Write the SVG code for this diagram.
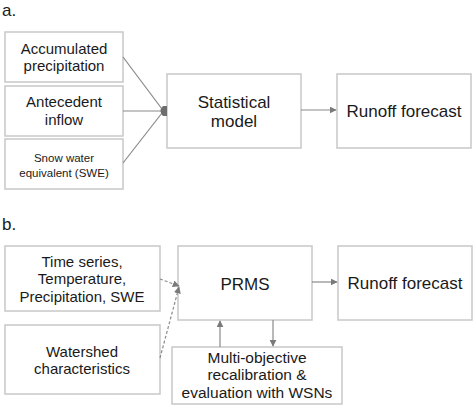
<svg xmlns="http://www.w3.org/2000/svg" width="474" height="406" viewBox="0 0 474 406">
<style>
.box{fill:#fff;stroke:#c8c8c8;stroke-width:1.5}
text{font-family:"Liberation Sans",Arial,sans-serif;fill:#1a1a1a;text-anchor:middle}
.lbl{text-anchor:start;font-size:17px}
.c{stroke:#8a8a8a;stroke-width:1.2;fill:none}
.d{stroke:#8a8a8a;stroke-width:1.2;fill:none;stroke-dasharray:3 2}
</style>
<defs>
<marker id="ah" viewBox="0 0 10 10" refX="9" refY="5" markerWidth="7" markerHeight="7" markerUnits="userSpaceOnUse" orient="auto">
<path d="M0,0 L10,5 L0,10 z" fill="#7a7a7a"/>
</marker>
</defs>
<rect width="474" height="406" fill="#fff"/>
<text class="lbl" x="2" y="16">a.</text>
<text class="lbl" x="2" y="230">b.</text>

<g id="accum"><rect class="box" x="5" y="32" width="118" height="50"/>
<text font-size="15" x="64" y="54">Accumulated</text><text font-size="15" x="64" y="71">precipitation</text></g>
<g id="antecedent"><rect class="box" x="5" y="86" width="118" height="50"/>
<text font-size="15" x="64" y="107">Antecedent</text><text font-size="15" x="64" y="125">inflow</text></g>
<g id="swe"><rect class="box" x="5" y="139" width="118" height="50"/>
<text font-size="11.5" x="64" y="162">Snow water</text><text font-size="11.5" x="64" y="177">equivalent (SWE)</text></g>
<g id="stat"><rect class="box" x="167" y="74" width="134" height="74"/>
<text font-size="17" x="234" y="108">Statistical</text><text font-size="17" x="234" y="127">model</text></g>
<g id="runoffA"><rect class="box" x="337" y="74" width="134" height="74"/>
<text font-size="17" x="404" y="117">Runoff forecast</text></g>

<g id="timeseries"><rect class="box" x="5" y="246" width="155" height="65"/>
<text font-size="15" x="82" y="267">Time series,</text><text font-size="15" x="82" y="284">Temperature,</text><text font-size="15" x="82" y="302">Precipitation, SWE</text></g>
<g id="watershed"><rect class="box" x="5" y="325" width="155" height="69"/>
<text font-size="15" x="82" y="357">Watershed</text><text font-size="15" x="82" y="374">characteristics</text></g>
<g id="prms"><rect class="box" x="178" y="246" width="134" height="74"/>
<text font-size="17" x="245" y="290">PRMS</text></g>
<g id="runoffB"><rect class="box" x="338" y="246" width="134" height="74"/>
<text font-size="17" x="405" y="289">Runoff forecast</text></g>
<g id="multi"><rect class="box" x="172" y="347" width="170" height="57"/>
<text font-size="15.5" x="257" y="363">Multi-objective</text><text font-size="15.5" x="257" y="380">recalibration &amp;</text><text font-size="15.5" x="257" y="398">evaluation with WSNs</text></g>

<g id="connectors">
<line class="c" x1="123" y1="57" x2="162" y2="109"/>
<line class="c" x1="123" y1="111" x2="162" y2="111" stroke-width="2.2"/>
<line class="c" x1="123" y1="163" x2="162" y2="113"/>
<path d="M167,106 L163,106 Q158,111 163,116 L167,116 z" fill="#6e6e6e"/>
<line class="c" x1="301" y1="110" x2="336" y2="110" marker-end="url(#ah)"/>
<line class="d" x1="160" y1="279" x2="179" y2="286" marker-end="url(#ah)"/>
<line class="d" x1="160" y1="358" x2="179" y2="287" marker-end="url(#ah)"/>
<line class="c" x1="312" y1="282" x2="337" y2="282" marker-end="url(#ah)"/>
<line class="c" x1="220" y1="347" x2="220" y2="321" marker-end="url(#ah)"/>
<line class="c" x1="273" y1="320" x2="273" y2="346" marker-end="url(#ah)"/>
</g>
</svg>
